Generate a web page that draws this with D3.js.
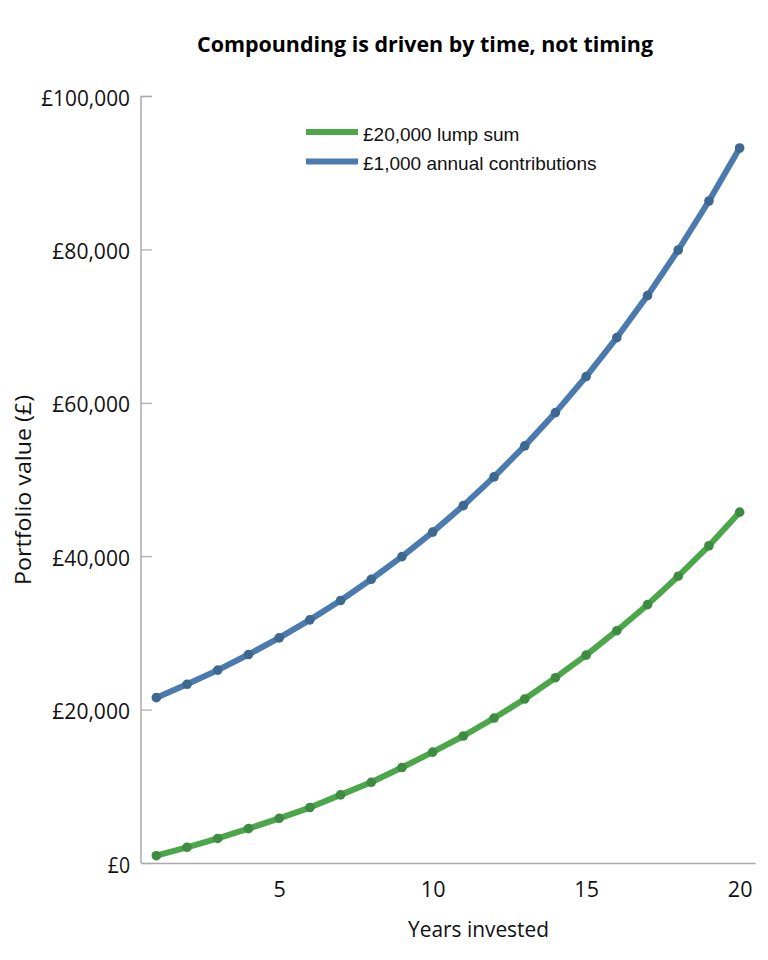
<!DOCTYPE html>
<html><head><meta charset="utf-8">
<script src="https://cdn.jsdelivr.net/npm/d3@7"></script>
<style>body{margin:0;background:#fff}svg{display:block}</style>
</head><body><svg id="c" width="768" height="960"></svg>
<script>
const years = [1,2,3,4,5,6,7,8,9,10,11,12,13,14,15,16,17,18,19,20];
const seriesNames = ["£20,000 lump sum", "£1,000 annual contributions"];
const greenValues = [950,2050,3200,4480,5830,7230,8880,10520,12450,14460,16560,18900,21380,24160,27100,30290,33680,37390,41360,45740];
const blueValues = [21560,23300,25150,27180,29350,31700,34220,36990,39950,43140,46600,50340,54380,58720,63420,68500,73980,79920,86310,93220];
const yTicks = [0,20000,40000,60000,80000,100000];
const xTicks = [5,10,15,20];

const svg = d3.select("#c");
const x = d3.scaleLinear().domain([0.5,20.5]).range([141,755]);
const y = d3.scaleLinear().domain([0,100000]).range([863,96]);
const fmt = v => "£" + d3.format(",")(v);

svg.append("text").attr("x",425).attr("y",51.5).attr("text-anchor","middle")
  .attr("font-family","Open Sans").attr("font-weight","bold").attr("font-size",22)
  .attr("textLength",456).attr("lengthAdjust","spacingAndGlyphs")
  .text("Compounding is driven by time, not timing");

const yAxis = svg.append("g").attr("transform","translate(141,0)")
  .call(d3.axisRight(y).tickValues(yTicks).tickSize(11).tickFormat(""));
yAxis.select(".domain").attr("stroke","#aaa").attr("stroke-width",1.5).attr("d","M11,96.5H0V863");
yAxis.selectAll(".tick line").attr("stroke","#aaa").attr("stroke-width",1.2);
svg.append("g").selectAll("text").data(yTicks).join("text")
  .attr("x",130).attr("y",d=>y(d)+9.5).attr("text-anchor","end")
  .attr("font-family","Open Sans").attr("font-size",21.5).attr("fill","#111")
  .attr("textLength",d=>fmt(d).length*11.1).attr("lengthAdjust","spacingAndGlyphs")
  .text(fmt);

const xAxis = svg.append("g").attr("transform","translate(0,863)")
  .call(d3.axisBottom(x).tickValues(xTicks).tickSize(0).tickPadding(0));
xAxis.select(".domain").attr("stroke","#aaa").attr("stroke-width",1.5);
xAxis.selectAll("text").attr("font-family","Open Sans").attr("font-size",21.5).attr("fill","#111")
  .attr("y",34).attr("dy",null);

svg.append("text").attr("x",478.5).attr("y",937).attr("text-anchor","middle")
  .attr("font-family","Open Sans").attr("font-size",21.5).attr("fill","#111")
  .attr("textLength",141).attr("lengthAdjust","spacingAndGlyphs").text("Years invested");
svg.append("text").attr("transform","translate(31,490) rotate(-90)").attr("text-anchor","middle")
  .attr("font-family","Open Sans").attr("font-size",21.5).attr("fill","#111")
  .attr("textLength",190).attr("lengthAdjust","spacingAndGlyphs").text("Portfolio value (£)");

const series = [
  {name:seriesNames[0], values:greenValues, line:"#4ca64a", dot:"#3e8c42"},
  {name:seriesNames[1], values:blueValues, line:"#4a7aae", dot:"#3d6891"}
];
const line = d3.line().x((d,i)=>x(years[i])).y(d=>y(d));
series.forEach(s=>{
  svg.append("path").datum(s.values).attr("d",line).attr("fill","none")
    .attr("stroke",s.line).attr("stroke-width",6).attr("stroke-linejoin","round");
  svg.append("g").selectAll("circle").data(s.values).join("circle")
    .attr("cx",(d,i)=>x(years[i])).attr("cy",d=>y(d)).attr("r",4.8).attr("fill",s.dot);
});

const leg = svg.append("g");
series.forEach((s,i)=>{
  const ly = 132 + i*29.5;
  leg.append("line").attr("x1",306).attr("x2",358).attr("y1",ly).attr("y2",ly)
    .attr("stroke",s.line).attr("stroke-width",6);
  leg.append("text").attr("x",363).attr("y",ly+8.5).attr("font-family","Liberation Sans, Arial")
    .attr("font-size",19).attr("fill","#111").text(s.name);
});
</script></body></html>
